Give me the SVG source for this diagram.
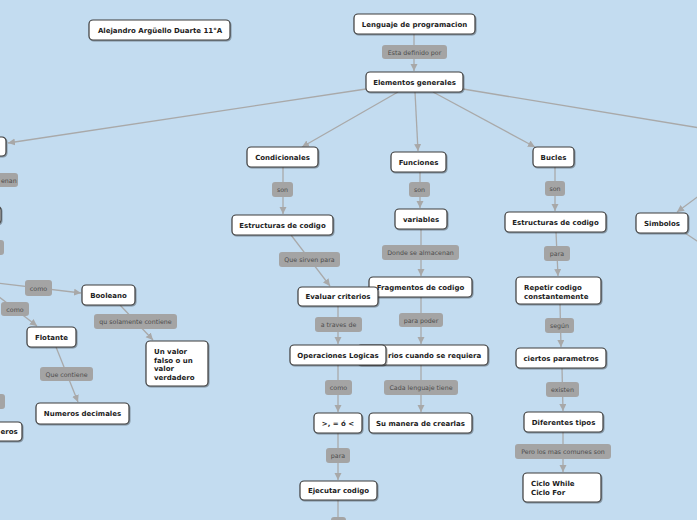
<svg xmlns="http://www.w3.org/2000/svg" width="697" height="520" viewBox="0 0 697 520">
<defs>
<marker id="ah" markerUnits="userSpaceOnUse" markerWidth="8" markerHeight="8" refX="7" refY="3.5" orient="auto">
<path d="M0,0 L7,3.5 L0,7 z" fill="#a8a8a8"/>
</marker>
<filter id="sh" x="-10%" y="-20%" width="130%" height="150%">
<feDropShadow dx="0.8" dy="1" stdDeviation="0.7" flood-color="#000" flood-opacity="0.35"/>
</filter>
</defs>
<style>
.n rect{fill:#fff;stroke:#3c3c3c;stroke-width:1.2;filter:url(#sh)}
.n text{font-family:"DejaVu Sans",Verdana,sans-serif;font-weight:bold;font-size:7px;fill:#1c1c1c}
.c line{stroke:#a9a9a9;stroke-width:1.3;fill:none}
.c .a{marker-end:url(#ah)}
.lb rect{fill:#a4a4a4}
.lb text{font-family:"DejaVu Sans",Verdana,sans-serif;font-size:6.3px;fill:#4c4c4c;text-anchor:middle}
.m{text-anchor:middle}
</style>
<rect width="697" height="520" fill="#c3dcf0"/>

<g id="connectors" class="c">
<line class="a" x1="414" y1="34" x2="414" y2="71"/>
<line class="a" x1="366" y1="89" x2="8" y2="143"/>
<line class="a" x1="398" y1="92" x2="302" y2="147"/>
<line class="a" x1="415" y1="92" x2="418" y2="151"/>
<line class="a" x1="433" y1="92" x2="535" y2="147"/>
<line x1="463" y1="89" x2="700" y2="128"/>
<line class="a" x1="283" y1="167" x2="283" y2="214"/>
<line class="a" x1="291" y1="235" x2="330" y2="286"/>
<line class="a" x1="338" y1="306" x2="338" y2="344"/>
<line class="a" x1="338" y1="365" x2="338" y2="412"/>
<line class="a" x1="338" y1="433" x2="338" y2="480"/>
<line x1="338" y1="500" x2="338" y2="520"/>
<line class="a" x1="420" y1="172" x2="420" y2="208"/>
<line class="a" x1="421" y1="229" x2="421" y2="276"/>
<line class="a" x1="421" y1="297" x2="421" y2="344"/>
<line class="a" x1="421" y1="365" x2="421" y2="412"/>
<line class="a" x1="555" y1="167" x2="555" y2="211"/>
<line class="a" x1="556" y1="232" x2="558" y2="276"/>
<line class="a" x1="560" y1="304" x2="561" y2="347"/>
<line class="a" x1="562" y1="368" x2="563" y2="411"/>
<line class="a" x1="563" y1="432" x2="563" y2="472"/>
<line class="a" x1="700" y1="195" x2="677" y2="212"/>
<line x1="685" y1="233" x2="700" y2="243"/>
<line class="a" x1="-20" y1="281" x2="81" y2="293"/>
<line class="a" x1="-10" y1="290" x2="37" y2="326"/>
<line class="a" x1="56" y1="347" x2="78" y2="402"/>
<line class="a" x1="120" y1="305" x2="153" y2="340"/>
</g>

<g id="labels" class="lb">
<rect x="382" y="45" width="65" height="14" rx="3"/><text x="414.5" y="54.5">Esta definido por</text>
<rect x="272" y="182" width="21" height="15" rx="3"/><text x="282.5" y="192">son</text>
<rect x="279" y="252" width="61" height="15" rx="3"/><text x="309.5" y="262">Que sirven para</text>
<rect x="315" y="317" width="47" height="15" rx="3"/><text x="338.5" y="327">a traves de</text>
<rect x="325" y="380" width="27" height="15" rx="3"/><text x="338.5" y="390">como</text>
<rect x="326" y="448" width="24" height="15" rx="3"/><text x="338" y="458">para</text>
<rect x="331" y="517" width="15" height="10" rx="3"/>
<rect x="409" y="182" width="21" height="15" rx="3"/><text x="419.5" y="192">son</text>
<rect x="382" y="245" width="77" height="15" rx="3"/><text x="420.5" y="255">Donde se almacenan</text>
<rect x="399" y="313" width="44" height="14" rx="3"/><text x="421" y="322.5">para poder</text>
<rect x="384" y="380" width="74" height="15" rx="3"/><text x="421" y="390">Cada lenguaje tiene</text>
<rect x="545" y="181" width="20" height="15" rx="3"/><text x="555" y="191">son</text>
<rect x="544" y="246" width="26" height="15" rx="3"/><text x="557" y="256">para</text>
<rect x="545" y="318" width="29" height="15" rx="3"/><text x="559.5" y="328">según</text>
<rect x="546" y="382" width="33" height="15" rx="3"/><text x="562.5" y="392">existen</text>
<rect x="515" y="444" width="96" height="15" rx="3"/><text x="563" y="454">Pero los mas comunes son</text>
<rect x="25" y="280" width="27" height="16" rx="3"/><text x="38.5" y="290.5">como</text>
<rect x="1" y="302" width="28" height="14" rx="3"/><text x="15" y="311.5">como</text>
<rect x="40" y="367" width="53" height="14" rx="3"/><text x="66.5" y="376.5">Que contiene</text>
<rect x="94" y="314" width="83" height="15" rx="3"/><text x="135.5" y="324">qu solamente contiene</text>
<rect x="-40" y="173" width="58" height="14" rx="3"/><text x="1" y="182.5" style="text-anchor:start">enan</text>
<rect x="-30" y="240" width="34" height="15" rx="3"/>
<rect x="-30" y="394" width="35" height="15" rx="3"/>
</g>

<g id="n-autor" class="n"><rect x="89" y="20" width="141" height="20" rx="4"/><text class="m" x="160" y="32.5">Alejandro Argüello Duarte 11°A</text></g>
<g id="n-lenguaje" class="n"><rect x="354" y="14" width="121" height="20" rx="4"/><text class="m" x="414.5" y="26.5">Lenguaje de programacion</text></g>
<g id="n-elementos" class="n"><rect x="366" y="72" width="97" height="20" rx="4"/><text class="m" x="414.5" y="84.5">Elementos generales</text></g>
<g id="n-left1" class="n"><rect x="-60" y="137" width="66" height="19" rx="4"/></g>
<g id="n-left2" class="n"><rect x="-60" y="206" width="61" height="18" rx="4"/></g>
<g id="n-booleano" class="n"><rect x="82" y="285" width="53" height="20" rx="4"/><text class="m" x="108.5" y="297.5">Booleano</text></g>
<g id="n-flotante" class="n"><rect x="27" y="327" width="49" height="20" rx="4"/><text class="m" x="51.5" y="339.5">Flotante</text></g>
<g id="n-decimales" class="n"><rect x="36" y="403" width="93" height="21" rx="4"/><text class="m" x="82.5" y="416">Numeros decimales</text></g>
<g id="n-valor" class="n"><rect x="146" y="341" width="62" height="45" rx="4"/>
<text x="154" y="353.5">Un valor</text><text x="154" y="362.5">falso o un</text><text x="154" y="371">valor</text><text x="154" y="379.5">verdadero</text></g>
<g id="n-enteros" class="n"><rect x="-60" y="422" width="82" height="19" rx="4"/><text x="0.5" y="434">eros</text></g>

<g id="n-condicionales" class="n"><rect x="247" y="147" width="71" height="20" rx="4"/><text class="m" x="282.5" y="159.5">Condicionales</text></g>
<g id="n-estructuras1" class="n"><rect x="232" y="215" width="101" height="20" rx="4"/><text class="m" x="282.5" y="227.5">Estructuras de codigo</text></g>
<g id="n-funciones" class="n"><rect x="391" y="152" width="55" height="20" rx="4"/><text class="m" x="418.5" y="164.5">Funciones</text></g>
<g id="n-variables" class="n"><rect x="395" y="209" width="52" height="20" rx="4"/><text class="m" x="421" y="221.5">variables</text></g>
<g id="n-fragmentos" class="n"><rect x="369" y="277" width="103" height="20" rx="4"/><text class="m" x="420.5" y="289.5">Fragmentos de codigo</text></g>
<g id="n-usarlos" class="n"><rect x="357" y="345" width="131" height="20" rx="4"/><text x="388" y="357.5">rios cuando se requiera</text></g>
<g id="n-evaluar" class="n"><rect x="298" y="287" width="80" height="19" rx="4"/><text class="m" x="338" y="299">Evaluar criterios</text></g>
<g id="n-operaciones" class="n"><rect x="290" y="345" width="96" height="20" rx="4"/><text class="m" x="338" y="357.5">Operaciones Logicas</text></g>
<g id="n-simbolos-op" class="n"><rect x="314" y="413" width="48" height="20" rx="4"/><text class="m" x="338" y="425.5">&gt;, = ó &lt;</text></g>
<g id="n-ejecutar" class="n"><rect x="300" y="481" width="77" height="19" rx="4"/><text class="m" x="338.5" y="493">Ejecutar codigo</text></g>
<g id="n-manera" class="n"><rect x="369" y="413" width="103" height="20" rx="4"/><text class="m" x="420.5" y="425.5">Su manera de crearlas</text></g>

<g id="n-bucles" class="n"><rect x="533" y="147" width="41" height="20" rx="4"/><text class="m" x="553.5" y="159.5">Bucles</text></g>
<g id="n-estructuras2" class="n"><rect x="505" y="212" width="101" height="20" rx="4"/><text class="m" x="555.5" y="224.5">Estructuras de codigo</text></g>
<g id="n-repetir" class="n"><rect x="516" y="277" width="85" height="27" rx="4"/><text x="524" y="289.5">Repetir codigo</text><text x="524" y="298.5">constantemente</text></g>
<g id="n-parametros" class="n"><rect x="516" y="348" width="90" height="20" rx="4"/><text class="m" x="561" y="360.5">ciertos parametros</text></g>
<g id="n-tipos" class="n"><rect x="524" y="412" width="79" height="20" rx="4"/><text class="m" x="563.5" y="424.5">Diferentes tipos</text></g>
<g id="n-ciclos" class="n"><rect x="523" y="473" width="78" height="29" rx="4"/><text x="531" y="485.5">Ciclo While</text><text x="531" y="494.5">Ciclo For</text></g>
<g id="n-simbolos" class="n"><rect x="636" y="213" width="52" height="20" rx="4"/><text class="m" x="662" y="225.5">Simbolos</text></g>
</svg>
